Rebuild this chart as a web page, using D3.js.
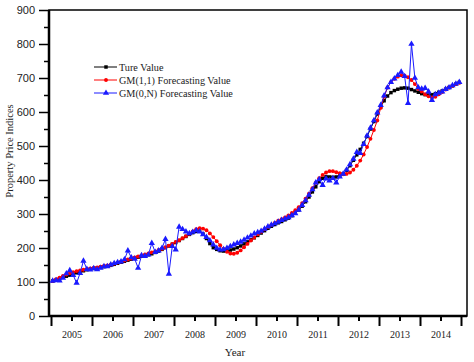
<!DOCTYPE html>
<html>
<head>
<meta charset="utf-8">
<script src="https://cdn.jsdelivr.net/npm/d3@7"></script>
<style>
body { margin: 0; background: #fff; }
.serif { font-family: "Liberation Serif", "Times New Roman", serif; }
</style>
</head>
<body>
<div id="chart"></div>
<script>
// monthly values, 2005-01 .. 2014-12
var tureValue = [
    103, 106, 110, 114, 117, 120, 123, 127, 130, 133, 136, 138,
    140, 141, 143, 145, 147, 149, 152, 155, 158, 161, 164, 167,
    170, 173, 176, 178, 180, 183, 187, 191, 196, 201, 206, 211,
    216, 222, 228, 234, 240, 245, 249, 250, 241, 228, 213, 201,
    196, 192, 191, 192, 194, 197, 201, 206, 212, 218, 224, 230,
    237, 244, 251, 258, 264, 269, 274, 278, 283, 288, 295, 303,
    312, 323, 336, 350, 365, 380, 395, 405, 410, 409, 408, 409,
    412, 418, 428, 442, 458, 474, 490, 508, 528, 550, 572, 594,
    615, 633, 647, 657, 663, 667, 670, 671, 670, 666, 662, 658,
    654, 651, 650, 651, 654, 658, 662, 667, 672, 677, 682, 687
];
var gm11 = [
    103, 108, 113, 118, 122, 126, 129, 132, 134, 136, 138, 140,
    141, 143, 145, 147, 149, 151, 154, 157, 160, 163, 166, 169,
    172, 175, 178, 181, 184, 187, 190, 194, 198, 202, 207, 212,
    218, 223, 229, 235, 242, 249, 255, 258, 257, 252, 243, 232,
    220, 208, 197, 189, 184, 183, 186, 193, 202, 212, 222, 231,
    240, 248, 255, 262, 268, 274, 280, 285, 290, 296, 303, 311,
    320, 332, 345, 360, 376, 392, 405, 415, 422, 426, 426, 423,
    420, 417, 418, 422, 430, 442, 457, 475, 497, 521, 547, 575,
    612, 645, 672, 688, 698, 704, 708, 707, 702, 694, 682, 668,
    660, 652, 646, 643, 645, 652, 659, 666, 672, 677, 682, 686
];
var gm0n = [
    103, 105, 104, 112, 125, 134, 120, 97, 126, 162, 138, 136,
    140, 137, 141, 146, 146, 151, 155, 158, 160, 166, 192, 172,
    168, 141, 178, 176, 180, 214, 188, 192, 200, 226, 124, 205,
    195, 262, 255, 248, 243, 247, 252, 248, 240, 232, 222, 210,
    200, 195, 196, 200, 205, 210, 214, 218, 224, 230, 236, 242,
    246, 250, 256, 263, 268, 272, 277, 282, 286, 290, 296, 302,
    312, 326, 340, 356, 372, 392, 402, 385, 404, 398, 405, 392,
    410, 418, 430, 446, 462, 482, 479, 505, 530, 553, 575, 598,
    620, 648, 672, 688, 698, 708, 718, 705, 626, 800, 700, 672,
    668, 670, 660, 635, 652, 656, 660, 667, 672, 678, 683, 688
];
var years = ["2005", "2006", "2007", "2008", "2009", "2010", "2011", "2012", "2013", "2014"];
var yTicks = [0, 100, 200, 300, 400, 500, 600, 700, 800, 900];
var seriesNames = ["Ture Value", "GM(1,1) Forecasting Value", "GM(0,N) Forecasting Value"];

var width = 474;
var height = 362;
var plotLeft = 49, plotRight = 467, plotTop = 10, plotBottom = 316;

var svg = d3.select("#chart").append("svg")
    .attr("width", width)
    .attr("height", height);

var x = d3.scaleLinear()
    .domain([0, 120])
    .range([51, 461]);

var y = d3.scaleLinear()
    .domain([0, 900])
    .range([plotBottom, plotTop]);

// y axis
var yAxis = d3.axisLeft(y)
    .tickValues(yTicks)
    .tickSize(10)
    .tickPadding(4)
    .tickSizeOuter(0);

var yAxisGroup = svg.append("g")
    .attr("transform", "translate(" + plotLeft + ",0)")
    .call(yAxis);
yAxisGroup.select(".domain").remove();
yAxisGroup.selectAll("line").attr("stroke-width", 1.5);
yAxisGroup.selectAll("text")
    .style("font-family", "'Liberation Sans', Arial, sans-serif")
    .style("font-size", "11px")
    .attr("fill", "#222");

var yMinor = d3.axisLeft(y)
    .tickValues(d3.range(50, 900, 100))
    .tickSize(5)
    .tickFormat("");
var yMinorGroup = svg.append("g")
    .attr("transform", "translate(" + plotLeft + ",0)")
    .call(yMinor);
yMinorGroup.select(".domain").remove();
yMinorGroup.selectAll("line").attr("stroke-width", 1.5);

// x axis: year boundaries long, mid-year short with labels
var xAxis = d3.axisBottom(x)
    .tickValues(d3.range(0, 121, 12))
    .tickSize(10)
    .tickFormat("");
var xAxisGroup = svg.append("g")
    .attr("transform", "translate(0," + plotBottom + ")")
    .call(xAxis);
xAxisGroup.select(".domain").remove();
xAxisGroup.selectAll("line").attr("stroke-width", 2);

var xMinor = d3.axisBottom(x)
    .tickValues(d3.range(6, 120, 12))
    .tickSize(5)
    .tickPadding(10)
    .tickFormat(function(d, i) { return years[i]; });
var xMinorGroup = svg.append("g")
    .attr("transform", "translate(0," + plotBottom + ")")
    .call(xMinor);
xMinorGroup.select(".domain").remove();
xMinorGroup.selectAll("line").attr("stroke-width", 2);
xMinorGroup.selectAll("text")
    .attr("class", "serif")
    .style("font-size", "10px")
    .attr("fill", "#222");

// frame
svg.append("rect")
    .attr("x", plotLeft)
    .attr("y", plotTop)
    .attr("width", plotRight - plotLeft)
    .attr("height", plotBottom - plotTop)
    .attr("fill", "none")
    .attr("stroke", "#000")
    .attr("stroke-width", 1.5);
svg.append("line")
    .attr("x1", plotLeft).attr("x2", plotLeft)
    .attr("y1", plotTop).attr("y2", plotBottom)
    .attr("stroke", "#000").attr("stroke-width", 2.5);
svg.append("line")
    .attr("x1", plotLeft).attr("x2", plotRight)
    .attr("y1", plotBottom).attr("y2", plotBottom)
    .attr("stroke", "#000").attr("stroke-width", 2.5);

// axis titles
svg.append("text")
    .attr("class", "serif")
    .attr("x", 235)
    .attr("y", 356)
    .attr("text-anchor", "middle")
    .style("font-size", "11px")
    .attr("fill", "#222")
    .text("Year");

svg.append("text")
    .attr("class", "serif")
    .attr("transform", "translate(13,151) rotate(-90)")
    .attr("text-anchor", "middle")
    .style("font-size", "10.5px")
    .attr("fill", "#222")
    .text("Property Price Indices");

// series
var line = d3.line()
    .x(function(d, i) { return x(i + 0.5); })
    .y(function(d) { return y(d); });

var colors = ["#000000", "#ff0000", "#1a1aff"];
var allSeries = [tureValue, gm11, gm0n];
var symbols = [d3.symbolSquare, d3.symbolCircle, d3.symbolTriangle];
var symSizes = [12, 12, 17];

allSeries.forEach(function(data, k) {
    svg.append("path")
        .datum(data)
        .attr("d", line)
        .attr("fill", "none")
        .attr("stroke", colors[k])
        .attr("stroke-width", 1);

    svg.append("g").selectAll("path")
        .data(data)
        .enter()
        .append("path")
        .attr("transform", function(d, i) {
            return "translate(" + x(i + 0.5) + "," + y(d) + ")";
        })
        .attr("d", d3.symbol().type(symbols[k]).size(symSizes[k]))
        .attr("fill", colors[k]);
});

// legend
var legendY = [67, 80, 93];
var legend = svg.append("g");
seriesNames.forEach(function(name, k) {
    legend.append("line")
        .attr("x1", 94).attr("x2", 117)
        .attr("y1", legendY[k]).attr("y2", legendY[k])
        .attr("stroke", colors[k])
        .attr("stroke-width", 1);
    legend.append("path")
        .attr("transform", "translate(106," + legendY[k] + ")")
        .attr("d", d3.symbol().type(symbols[k]).size(symSizes[k]))
        .attr("fill", colors[k]);
    legend.append("text")
        .attr("class", "serif")
        .attr("x", 119)
        .attr("y", legendY[k] + 3.5)
        .style("font-size", "10.2px")
        .attr("fill", "#222")
        .text(name);
});
</script>
</body>
</html>
